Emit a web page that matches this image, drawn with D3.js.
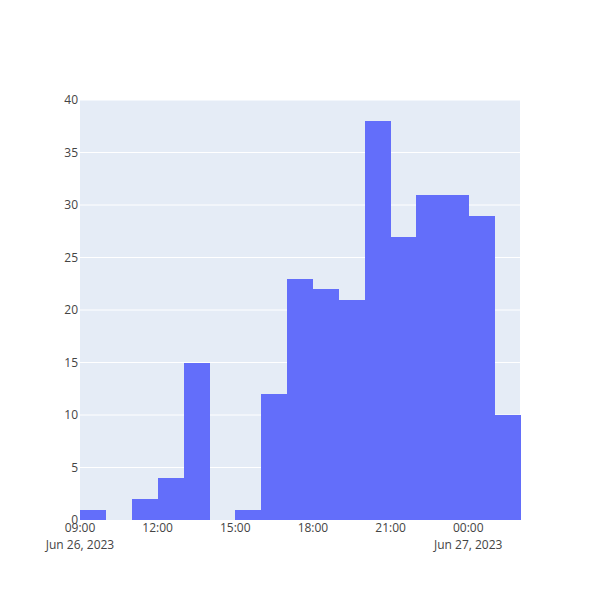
<!DOCTYPE html>
<html><head><meta charset="utf-8">
<script src="https://cdn.jsdelivr.net/npm/d3@7"></script>
<style>body{margin:0;background:#fff}svg{display:block}</style>
</head><body>
<svg id="c" width="600" height="600"></svg>
<script>
const binStarts = ["2023-06-26T09:00","2023-06-26T10:00","2023-06-26T11:00","2023-06-26T12:00","2023-06-26T13:00","2023-06-26T14:00","2023-06-26T15:00","2023-06-26T16:00","2023-06-26T17:00","2023-06-26T18:00","2023-06-26T19:00","2023-06-26T20:00","2023-06-26T21:00","2023-06-26T22:00","2023-06-26T23:00","2023-06-27T00:00","2023-06-27T01:00"];
const counts = [1,0,2,4,15,0,1,12,23,22,21,38,27,31,31,29,10];
const xTicks = ["2023-06-26T09:00","2023-06-26T12:00","2023-06-26T15:00","2023-06-26T18:00","2023-06-26T21:00","2023-06-27T00:00"];
const xTickLabels = ["09:00\nJun 26, 2023","12:00","15:00","18:00","21:00","00:00\nJun 27, 2023"];
const yTicks = [0,5,10,15,20,25,30,35,40];

const parse = d3.timeParse("%Y-%m-%dT%H:%M");
const m = {l:80, t:100, r:80, b:80}, W = 600, H = 600;
const pw = W - m.l - m.r, ph = H - m.t - m.b;
const svg = d3.select("#c");
const font = "'Open Sans', Verdana, Arial, sans-serif";

const x = d3.scaleTime().domain([parse("2023-06-26T09:00"), parse("2023-06-27T02:00")]).range([m.l, m.l+pw]);
const y = d3.scaleLinear().domain([0,40]).range([m.t+ph, m.t]);

svg.append("rect").attr("x",m.l).attr("y",m.t).attr("width",pw).attr("height",ph).attr("fill","#e5ecf6");

svg.append("g").selectAll("line").data(yTicks.filter(d=>d>0)).join("line")
  .attr("x1",m.l).attr("x2",m.l+pw).attr("y1",d=>y(d)).attr("y2",d=>y(d))
  .attr("stroke","#fff").attr("stroke-width",1);

const bins = binStarts.map((s,i)=>({x0:parse(s), x1:d3.timeHour.offset(parse(s),1), v:counts[i]}));
svg.append("g").attr("shape-rendering","crispEdges").selectAll("rect").data(bins.filter(d=>d.v>0)).join("rect")
  .attr("x",d=>x(d.x0)).attr("width",d=>x(d.x1)-x(d.x0)+0.5)
  .attr("y",d=>y(d.v)).attr("height",d=>y(0)-y(d.v))
  .attr("fill","#636efa");

svg.append("g").selectAll("text").data(yTicks).join("text")
  .attr("x",m.l-2).attr("y",d=>y(d)).attr("dy","0.35em")
  .attr("text-anchor","end").attr("font-family",font).attr("font-size",12).attr("fill","#444")
  .text(d=>d);

const xt = svg.append("g").selectAll("text").data(xTicks).join("text")
  .attr("x",d=>x(parse(d))).attr("y",m.t+ph+8)
  .attr("text-anchor","middle").attr("font-family",font).attr("font-size",12).attr("fill","#444");
xt.each(function(d,i){
  const lines = xTickLabels[i].split("\n");
  d3.select(this).selectAll("tspan").data(lines).join("tspan")
    .attr("x",x(parse(d))).attr("dy",(l,j)=>j===0?"0.35em":"1.4em").text(l=>l);
});
</script>
</body></html>
